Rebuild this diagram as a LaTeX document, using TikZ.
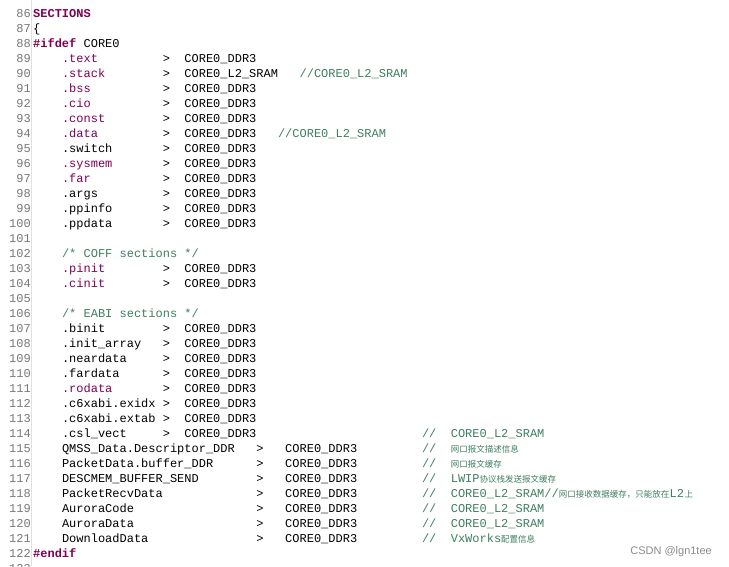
\documentclass[tikz,border=0pt]{standalone}
\usepackage{fontspec}
\setmonofont{Liberation Mono}
\newfontfamily\cjk{Noto Sans CJK SC}
\newfontfamily\wm{Liberation Sans}
\definecolor{kw}{HTML}{7F0055}
\definecolor{cm}{HTML}{3F7F5F}
\definecolor{ln}{HTML}{787878}
\tikzset{seg/.style={anchor=base west,inner sep=0pt,font=\ttfamily\fontsize{12}{12}\selectfont},
 cn/.style={anchor=base west,inner sep=0pt,font=\cjk\fontsize{8.5}{8.5}\selectfont,text=cm}}
\newcommand{\Sg}[4]{\node[seg,text=#3] (l#1c#2) at ({33+#2*7.2pt},{-(17+15*(#1-86))*1pt}) {#4};}
\newcommand{\Cj}[3]{\node[cn] (z#1c#2) at ({33+#2*7.2pt},{-(17+15*(#1-86))*1pt}) {#3};}
\newcommand{\Rw}[4]{\Sg{#1}{4}{#2}{#3}\Sg{#1}{18}{black}{>}\Sg{#1}{21}{black}{#4}}
\newcommand{\Qw}[2]{\Sg{#1}{4}{black}{#2}\Sg{#1}{31}{black}{>}\Sg{#1}{35}{black}{CORE0\_DDR3}}
\begin{document}
\begin{tikzpicture}[x=1pt,y=1pt]
\useasboundingbox[fill=white] (0,0) rectangle (729,-566);
\draw[black!12] (31.5,0) -- (31.5,-566);
\foreach \n in {86,...,123}{
 \node[anchor=base east,inner sep=0pt,text=ln,font=\ttfamily\fontsize{12}{12}\selectfont] (n\n) at (31,{-(17+15*(\n-86))}) {\n};}
\Sg{86}{0}{kw}{\bfseries SECTIONS}
\Sg{87}{0}{black}{\{}
\Sg{88}{0}{kw}{\bfseries\#ifdef}\Sg{88}{7}{black}{CORE0}
\Rw{89}{kw}{.text}{CORE0\_DDR3}
\Rw{90}{kw}{.stack}{CORE0\_L2\_SRAM}\Sg{90}{37}{cm}{//CORE0\_L2\_SRAM}
\Rw{91}{kw}{.bss}{CORE0\_DDR3}
\Rw{92}{kw}{.cio}{CORE0\_DDR3}
\Rw{93}{kw}{.const}{CORE0\_DDR3}
\Rw{94}{kw}{.data}{CORE0\_DDR3}\Sg{94}{34}{cm}{//CORE0\_L2\_SRAM}
\Rw{95}{black}{.switch}{CORE0\_DDR3}
\Rw{96}{kw}{.sysmem}{CORE0\_DDR3}
\Rw{97}{kw}{.far}{CORE0\_DDR3}
\Rw{98}{black}{.args}{CORE0\_DDR3}
\Rw{99}{black}{.ppinfo}{CORE0\_DDR3}
\Rw{100}{black}{.ppdata}{CORE0\_DDR3}
\Sg{102}{4}{cm}{/* COFF sections */}
\Rw{103}{kw}{.pinit}{CORE0\_DDR3}
\Rw{104}{kw}{.cinit}{CORE0\_DDR3}
\Sg{106}{4}{cm}{/* EABI sections */}
\Rw{107}{black}{.binit}{CORE0\_DDR3}
\Rw{108}{black}{.init\_array}{CORE0\_DDR3}
\Rw{109}{black}{.neardata}{CORE0\_DDR3}
\Rw{110}{black}{.fardata}{CORE0\_DDR3}
\Rw{111}{kw}{.rodata}{CORE0\_DDR3}
\Rw{112}{black}{.c6xabi.exidx}{CORE0\_DDR3}
\Rw{113}{black}{.c6xabi.extab}{CORE0\_DDR3}
\Rw{114}{black}{.csl\_vect}{CORE0\_DDR3}
\Sg{114}{54}{cm}{//}\Sg{114}{58}{cm}{CORE0\_L2\_SRAM}
\Qw{115}{QMSS\_Data.Descriptor\_DDR}\Sg{115}{54}{cm}{//}\Cj{115}{58}{网口报文描述信息}
\Qw{116}{PacketData.buffer\_DDR}\Sg{116}{54}{cm}{//}\Cj{116}{58}{网口报文缓存}
\Qw{117}{DESCMEM\_BUFFER\_SEND}\Sg{117}{54}{cm}{//}\Sg{117}{58}{cm}{LWIP}\Cj{117}{62}{协议栈发送报文缓存}
\Qw{118}{PacketRecvData}\Sg{118}{54}{cm}{//}\Sg{118}{58}{cm}{CORE0\_L2\_SRAM//}\Cj{118}{73}{网口接收数据缓存，只能放在}
\node[seg,text=cm] (l2) at (z118c73.base east) {L2};
\node[cn] (shang) at (l2.base east) {上};
\Qw{119}{AuroraCode}\Sg{119}{54}{cm}{//}\Sg{119}{58}{cm}{CORE0\_L2\_SRAM}
\Qw{120}{AuroraData}\Sg{120}{54}{cm}{//}\Sg{120}{58}{cm}{CORE0\_L2\_SRAM}
\Qw{121}{DownloadData}\Sg{121}{54}{cm}{//}\Sg{121}{58}{cm}{VxWorks}\Cj{121}{65}{配置信息}
\Sg{122}{0}{kw}{\bfseries\#endif}
\node[anchor=base east,inner sep=0pt,text=black!45,font=\wm\fontsize{11}{11}\selectfont] (wm) at (712,-554) {CSDN @lgn1tee};
\end{tikzpicture}
\end{document}
